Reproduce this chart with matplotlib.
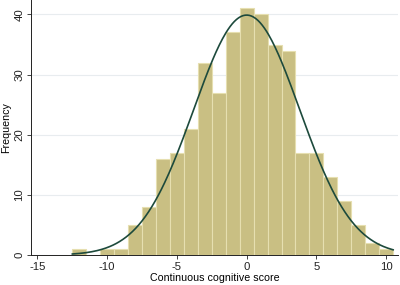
import numpy as np
import matplotlib.pyplot as plt

plt.rcParams['font.family'] = ['Liberation Sans', 'DejaVu Sans']

# Histogram bins (centres, width 1) and counts
bin_centers = [-12, -10, -9, -8, -7, -6, -5, -4, -3, -2, -1, 0, 1, 2, 3,
               4, 5, 6, 7, 8, 9, 10]
counts = [1, 1, 1, 5, 8, 16, 17, 21, 32, 27, 37, 41, 40, 35, 34,
          17, 17, 13, 9, 5, 2, 1]
bin_width = 1.0

# Fitted normal overlay (mean / sd)
mu = 0.0
sigma = 3.8
n_obs = sum(counts)

x_ticks = [-15, -10, -5, 0, 5, 10]
y_ticks = [0, 10, 20, 30, 40]

fig = plt.figure(figsize=(4.0, 2.85), dpi=100)
ax = fig.add_axes([0.078, 0.105, 0.917, 0.895])

ax.bar(bin_centers, counts, width=bin_width, color='#c9bf83',
       edgecolor='#e6dfb0', linewidth=0.8, zorder=2)

xs = np.linspace(min(bin_centers) - 0.5, max(bin_centers) + 0.5, 300)
ys = n_obs * bin_width / (sigma * np.sqrt(2 * np.pi)) * np.exp(-0.5 * ((xs - mu) / sigma) ** 2)
ax.plot(xs, ys, color='#1d4a3c', linewidth=1.2, zorder=3)

ax.set_xlim(-15.45, 10.85)
ax.set_ylim(0, 42.4)
ax.set_xticks(x_ticks)
ax.set_yticks(y_ticks)
ax.set_xticklabels([str(t) for t in x_ticks])
ax.set_yticklabels([str(t) for t in y_ticks], rotation=90, va='center')
ax.tick_params(labelsize=8.2, length=3, width=0.6, colors='#222222', pad=2)

ax.yaxis.grid(True, color='#e8ecef', linewidth=0.8, zorder=0)
ax.set_axisbelow(True)
for s in ['top', 'right']:
    ax.spines[s].set_visible(False)
for s in ['left', 'bottom']:
    ax.spines[s].set_linewidth(0.7)
    ax.spines[s].set_color('#222222')

ax.set_xlabel('Continuous cognitive score', fontsize=7.7, labelpad=1)
ax.set_ylabel('Frequency', fontsize=7.7, labelpad=2)

fig.savefig('out.png', dpi=100)
